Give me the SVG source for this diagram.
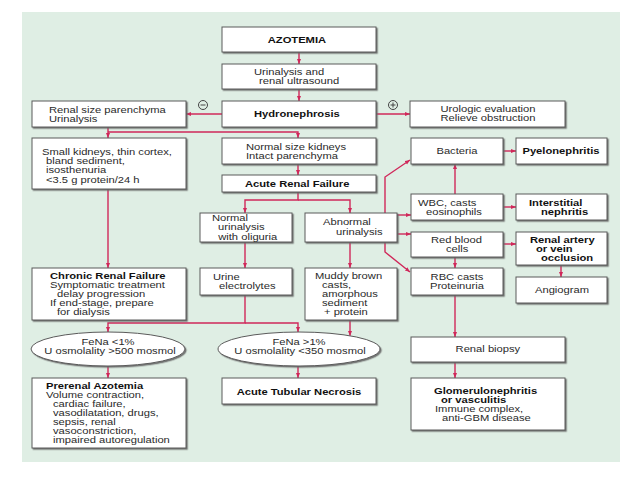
<svg xmlns="http://www.w3.org/2000/svg" width="638" height="478" viewBox="0 0 638 478">
<style>
.bx{fill:#fff;stroke:#5a5a5a;stroke-width:1;filter:url(#ds)}
.el{fill:#fff;stroke:#5a5a5a;stroke-width:1;filter:url(#ds)}
.c{fill:none;stroke:#d0285a;stroke-width:1.4}
.a{marker-end:url(#ah)}
text{font-family:"Liberation Sans",Arial,Helvetica,sans-serif;font-size:9.1px;fill:#2a2a2a;transform-box:fill-box;transform-origin:0 50%;transform:scaleX(1.23)}
text.m{text-anchor:middle;transform-origin:50% 50%}
.b{font-weight:bold;fill:#111}
.sg{fill:none;stroke:#444;stroke-width:1}
</style>
<defs>
<filter id="ds" x="-10%" y="-10%" width="130%" height="140%">
<feDropShadow dx="1.3" dy="1.3" stdDeviation="0.5" flood-color="#6a6a6a" flood-opacity="0.9"/>
</filter>
<marker id="ah" viewBox="0 0 10 10" refX="10" refY="5" markerWidth="5" markerHeight="5" markerUnits="userSpaceOnUse" orient="auto">
<path d="M0,1 L10,5 L0,9 Z" fill="#d0285a"/>
</marker>
</defs>
<rect x="0" y="0" width="638" height="478" fill="#fff"/>
<rect x="22" y="12" width="598" height="450" fill="#dfeee4"/>

<g id="connectors">
<path class="c a" d="M299,52 V64"/>
<path class="c a" d="M299,89 V101"/>
<path class="c a" d="M222,114 H186"/>
<path class="c a" d="M376,114 H410"/>
<path class="c a" d="M108,127 V138"/>
<path class="c a" d="M108,132 H298 V138"/>
<path class="c a" d="M108,189 V268"/>
<path class="c a" d="M298,164 V175"/>
<path class="c a" d="M298,192 V200 H245 V213"/>
<path class="c a" d="M298,200 H350 V213"/>
<path class="c a" d="M245,242 V268"/>
<path class="c a" d="M350,242 V268"/>
<path class="c a" d="M245,295 V323 H108 V332"/>
<path class="c a" d="M245,323 H298 V332"/>
<path class="c a" d="M350,320 V336"/>
<path class="c a" d="M108,366 V378"/>
<path class="c a" d="M298,366 V378"/>
<path class="c a" d="M385,205 V177 L410,160"/>
<path class="c a" d="M385,205 V252 L410,272"/>
<path class="c a" d="M397,215 H411"/>
<path class="c a" d="M397,234 H411"/>
<path class="c a" d="M455,194 V164"/>
<path class="c a" d="M503,151 H516"/>
<path class="c a" d="M503,207 H516"/>
<path class="c a" d="M503,244 H516"/>
<path class="c a" d="M455,257 V268"/>
<path class="c a" d="M561,265 V277"/>
<path class="c a" d="M455,295 V337"/>
<path class="c a" d="M455,362 V378"/>
</g>

<g id="minus"><circle class="sg" cx="203" cy="105" r="4.5"/><path class="sg" d="M200.5,105 H205.5"/></g>
<g id="plus"><circle class="sg" cx="393" cy="105" r="4.5"/><path class="sg" d="M390.5,105 H395.5 M393,102.5 V107.5"/></g>

<g id="azotemia"><rect class="bx" x="222" y="27" width="154" height="25"/><text class="m b" x="297" y="43">AZOTEMIA</text></g>
<g id="urinalysis"><rect class="bx" x="222" y="64" width="154" height="25"/><text x="254" y="75">Urinalysis and</text><text x="259" y="84">renal ultrasound</text></g>
<g id="hydronephrosis"><rect class="bx" x="222" y="101" width="154" height="26"/><text class="b" x="254" y="117">Hydronephrosis</text></g>
<g id="renal-size"><rect class="bx" x="32" y="101" width="154" height="26"/><text x="49" y="113">Renal size parenchyma</text><text x="49" y="122">Urinalysis</text></g>
<g id="urologic"><rect class="bx" x="410" y="101" width="155" height="26"/><text class="m" x="488" y="112">Urologic evaluation</text><text class="m" x="488" y="121">Relieve obstruction</text></g>

<g id="small-kidneys"><rect class="bx" x="32" y="138" width="154" height="51"/>
<text x="42" y="155">Small kidneys, thin cortex,</text>
<text x="46" y="164">bland sediment,</text>
<text x="46" y="173">isosthenuria</text>
<text x="46" y="183">&lt;3.5 g protein/24 h</text></g>
<g id="normal-size"><rect class="bx" x="222" y="138" width="154" height="26"/><text x="246" y="150">Normal size kidneys</text><text x="246" y="159">Intact parenchyma</text></g>
<g id="arf"><rect class="bx" x="222" y="175" width="154" height="17"/><text class="b" x="245" y="187">Acute Renal Failure</text></g>
<g id="normal-urinalysis"><rect class="bx" x="200" y="213" width="92" height="29"/><text x="212" y="221">Normal</text><text x="218" y="230">urinalysis</text><text x="218" y="240">with oliguria</text></g>
<g id="abnormal-urinalysis"><rect class="bx" x="305" y="213" width="92" height="29"/><text x="323" y="225">Abnormal</text><text x="336" y="235">urinalysis</text></g>

<g id="bacteria"><rect class="bx" x="411" y="138" width="92" height="26"/><text class="m" x="457" y="154">Bacteria</text></g>
<g id="pyelonephritis"><rect class="bx" x="516" y="138" width="91" height="26"/><text class="m b" x="561" y="154">Pyelonephritis</text></g>
<g id="wbc"><rect class="bx" x="411" y="194" width="92" height="26"/><text x="418" y="206">WBC, casts</text><text x="426" y="215">eosinophils</text></g>
<g id="interstitial"><rect class="bx" x="516" y="194" width="91" height="26"/><text class="b" x="529" y="206">Interstitial</text><text class="b" x="541" y="215">nephritis</text></g>
<g id="red-blood"><rect class="bx" x="411" y="232" width="92" height="25"/><text x="431" y="243">Red blood</text><text x="446" y="252">cells</text></g>
<g id="renal-artery"><rect class="bx" x="516" y="232" width="91" height="33"/><text class="b" x="530" y="243">Renal artery</text><text class="b" x="536" y="252">or vein</text><text class="b" x="541" y="261">occlusion</text></g>

<g id="chronic"><rect class="bx" x="32" y="268" width="154" height="52"/>
<text class="b" x="50" y="279">Chronic Renal Failure</text>
<text x="50" y="288">Symptomatic treatment</text>
<text x="57" y="297">delay progression</text>
<text x="50" y="306">If end-stage, prepare</text>
<text x="57" y="315">for dialysis</text></g>
<g id="urine-electrolytes"><rect class="bx" x="200" y="268" width="92" height="27"/><text x="213" y="280">Urine</text><text x="219" y="289">electrolytes</text></g>
<g id="muddy"><rect class="bx" x="305" y="268" width="92" height="52"/>
<text x="315" y="279">Muddy brown</text>
<text x="322" y="288">casts,</text>
<text x="322" y="297">amorphous</text>
<text x="322" y="306">sediment</text>
<text x="324" y="315">+ protein</text></g>
<g id="rbc-casts"><rect class="bx" x="411" y="268" width="92" height="27"/><text class="m" x="457" y="280">RBC casts</text><text class="m" x="457" y="289">Proteinuria</text></g>
<g id="angiogram"><rect class="bx" x="516" y="277" width="91" height="26"/><text class="m" x="562" y="293">Angiogram</text></g>

<g id="fena-low"><ellipse class="el" cx="108" cy="349" rx="77" ry="17"/><text class="m" x="108" y="345">FeNa &lt;1%</text><text class="m" x="110" y="354">U osmolality &gt;500 mosmol</text></g>
<g id="fena-high"><ellipse class="el" cx="299" cy="349" rx="81" ry="17"/><text class="m" x="299" y="345">FeNa &gt;1%</text><text class="m" x="300" y="354">U osmolality &lt;350 mosmol</text></g>
<g id="renal-biopsy"><rect class="bx" x="411" y="337" width="154" height="25"/><text class="m" x="488" y="352">Renal biopsy</text></g>

<g id="prerenal"><rect class="bx" x="32" y="378" width="154" height="70"/>
<text class="b" x="46" y="389">Prerenal Azotemia</text>
<text x="46" y="398">Volume contraction,</text>
<text x="53" y="407">cardiac failure,</text>
<text x="53" y="416">vasodilatation, drugs,</text>
<text x="53" y="425">sepsis, renal</text>
<text x="53" y="434">vasoconstriction,</text>
<text x="53" y="443">impaired autoregulation</text></g>
<g id="atn"><rect class="bx" x="222" y="378" width="154" height="26"/><text class="m b" x="299" y="395">Acute Tubular Necrosis</text></g>
<g id="glomerulo"><rect class="bx" x="411" y="378" width="154" height="52"/>
<text class="b" x="434" y="394">Glomerulonephritis</text>
<text class="b" x="441" y="403">or vasculitis</text>
<text x="435" y="412">Immune complex,</text>
<text x="442" y="421">anti-GBM disease</text></g>
</svg>
